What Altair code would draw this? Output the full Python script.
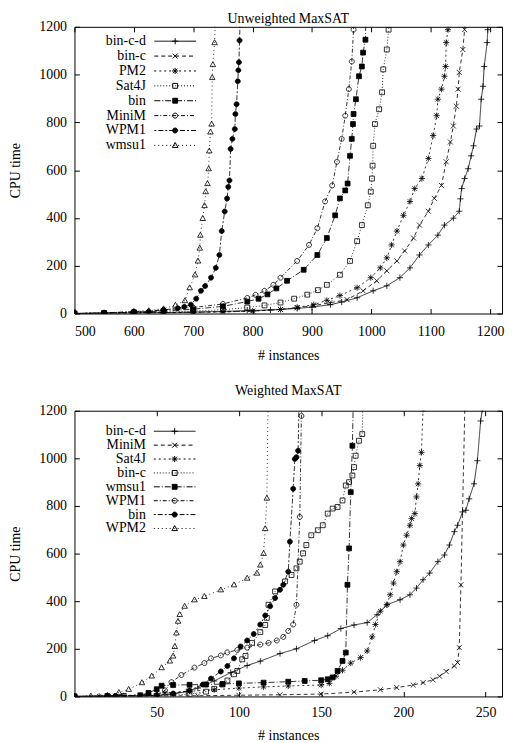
import math
import altair as alt
import pandas as pd

FONT = "Liberation Serif"

# ---------------- Unweighted MaxSAT ----------------
U_ORDER = ["bin-c-d", "bin-c", "PM2", "Sat4J", "bin", "MiniM", "WPM1", "wmsu1"]

U_BINCD_X = [500, 550, 600, 650, 700, 750, 791, 830, 875, 900, 931, 950, 976, 1003, 1026, 1048, 1065, 1081, 1096, 1112, 1123, 1138, 1148, 1150, 1152, 1157, 1163, 1168, 1172, 1177, 1182, 1185, 1188, 1190, 1195, 1196, 1199]
U_BINCD_Y = [0, 1, 2, 4, 6, 9, 12, 15, 21, 27, 37, 48, 66, 95, 116, 150, 191, 245, 287, 328, 370, 399, 428, 480, 523, 565, 606, 660, 702, 772, 785, 897, 951, 1034, 1134, 1188, 1400]

U_BINC_X = [500, 550, 600, 650, 700, 750, 800, 847, 875, 903, 930, 959, 986, 1009, 1026, 1043, 1056, 1071, 1081, 1096, 1106, 1118, 1126, 1133, 1138, 1143, 1146, 1148, 1154, 1157, 1160]
U_BINC_Y = [0, 1, 2, 3, 5, 7, 10, 17, 24, 33, 45, 58, 95, 137, 179, 220, 262, 316, 370, 428, 482, 536, 635, 718, 785, 868, 939, 1009, 1105, 1188, 1400]

U_PM2_X = [500, 550, 600, 650, 700, 750, 800, 847, 875, 903, 925, 947, 976, 999, 1015, 1026, 1034, 1043, 1054, 1065, 1073, 1085, 1096, 1104, 1110, 1112, 1118, 1123, 1125, 1126, 1129, 1132]
U_PM2_Y = [0, 1, 2, 3, 5, 7, 10, 17, 26, 37, 55, 75, 108, 150, 191, 233, 287, 345, 411, 469, 523, 565, 649, 745, 828, 897, 939, 993, 1034, 1134, 1188, 1400]

U_SAT4J_X = [500, 550, 600, 650, 700, 750, 791, 820, 847, 870, 892, 910, 925, 947, 964, 976, 984, 994, 999, 1001, 1002, 1003, 1006, 1013, 1018, 1020, 1026, 1029, 1031]
U_SAT4J_Y = [0, 1, 3, 6, 10, 16, 25, 34, 46, 62, 79, 98, 120, 162, 220, 303, 370, 453, 510, 565, 619, 702, 793, 855, 926, 1022, 1105, 1188, 1400]

U_BIN_X = [500, 550, 600, 650, 700, 750, 791, 810, 825, 840, 858, 886, 909, 925, 939, 947, 956, 960, 964, 967, 969, 970, 974, 979, 984, 986, 990, 992]
U_BIN_Y = [0, 2, 5, 10, 18, 30, 50, 62, 80, 105, 137, 183, 245, 316, 411, 482, 515, 544, 660, 731, 793, 835, 897, 993, 1034, 1092, 1146, 1400]

U_MINIM_X = [500, 550, 600, 650, 700, 750, 791, 805, 820, 835, 847, 875, 895, 909, 922, 934, 942, 950, 956, 962, 967, 970, 972]
U_MINIM_Y = [0, 3, 8, 15, 25, 40, 65, 78, 95, 120, 150, 220, 287, 357, 469, 536, 635, 731, 828, 939, 1055, 1188, 1400]

U_WPM1_X = [500, 550, 600, 625, 650, 674, 685, 696, 705, 713, 720, 730, 738, 744, 748, 753, 757, 759, 761, 763, 766, 770, 771, 773, 775, 776, 777, 778, 781]
U_WPM1_Y = [0, 2, 5, 8, 15, 22, 28, 37, 62, 95, 115, 150, 191, 245, 345, 427, 481, 530, 557, 689, 731, 772, 835, 876, 972, 1018, 1052, 1143, 1400]

U_WMSU1_X = [500, 550, 600, 625, 650, 670, 686, 694, 703, 708, 711, 712, 716, 719, 721, 724, 726, 727, 729, 731, 732, 733, 736, 739]
U_WMSU1_Y = [0, 3, 8, 12, 20, 35, 54, 108, 162, 220, 274, 328, 398, 452, 510, 544, 606, 681, 760, 793, 988, 1042, 1134, 1400]

# ---------------- Weighted MaxSAT ----------------
W_ORDER = ["bin-c-d", "MiniM", "Sat4J", "bin-c", "wmsu1", "WPM1", "bin", "WPM2"]

W_BINCD_X = [0, 20, 40, 50, 60, 68, 75, 80, 85, 95, 105, 113, 125, 135, 146, 154, 162, 170, 178, 184, 190, 198, 204, 208, 212, 216, 221, 225, 228, 231, 233, 236, 238, 240, 243, 245, 247, 248, 250]
W_BINCD_Y = [0, 1, 2, 5, 10, 20, 35, 50, 65, 100, 130, 148, 180, 200, 235, 255, 285, 300, 310, 343, 385, 406, 427, 455, 490, 518, 566, 594, 636, 692, 719, 775, 782, 830, 893, 990, 1157, 1206, 1400]

W_MINIM_X = [0, 25, 50, 75, 100, 125, 150, 170, 186, 196, 206, 212, 218, 222, 226, 231, 233, 234, 235, 238]
W_MINIM_Y = [0, 1, 2, 3, 5, 7, 10, 18, 28, 37, 48, 58, 70, 85, 105, 128, 142, 205, 469, 1400]

W_SAT4J_X = [0, 15, 30, 45, 55, 70, 85, 100, 115, 130, 150, 155, 159, 163, 168, 174, 178, 181, 183, 186, 190, 192, 194, 196, 198, 200, 202, 204, 205, 207, 208, 209, 210, 211, 212, 213]
W_SAT4J_Y = [0, 1, 3, 9, 15, 22, 28, 35, 40, 44, 48, 55, 85, 110, 140, 163, 191, 250, 302, 358, 385, 427, 476, 524, 566, 636, 677, 719, 747, 768, 838, 893, 970, 1025, 1206, 1400]

W_BINC_X = [0, 30, 60, 70, 80, 85, 90, 93, 97, 99, 102, 104, 108, 113, 116, 117, 118, 122, 128, 132, 135, 137, 139, 141, 144, 148, 151, 154, 157, 160, 163, 165, 167, 169, 170, 171, 173, 175, 176]
W_BINC_Y = [0, 2, 5, 10, 20, 32, 50, 67, 93, 107, 156, 170, 225, 270, 300, 330, 385, 441, 483, 510, 538, 566, 601, 636, 677, 698, 719, 768, 789, 796, 823, 886, 900, 928, 963, 1011, 1074, 1102, 1400]

W_WMSU1_X = [0, 20, 40, 45, 50, 53, 60, 70, 80, 90, 100, 115, 130, 140, 150, 154, 157, 160, 163, 165, 166, 167, 168, 169, 170]
W_WMSU1_Y = [0, 2, 5, 15, 30, 45, 48, 49, 50, 52, 55, 58, 62, 65, 68, 72, 80, 107, 149, 184, 469, 622, 858, 1053, 1400]

W_WPM1_X = [0, 25, 50, 55, 59, 65, 73, 79, 83, 89, 93, 99, 105, 113, 118, 123, 127, 130, 133, 135, 137, 138, 139]
W_WPM1_Y = [0, 2, 5, 25, 60, 90, 121, 140, 160, 172, 185, 195, 205, 218, 225, 235, 250, 275, 302, 385, 754, 1178, 1400]

W_BIN_X = [0, 25, 50, 60, 70, 78, 83, 89, 93, 97, 101, 105, 109, 113, 116, 119, 122, 125, 127, 130, 131, 133, 134, 135, 136, 137]
W_BIN_Y = [0, 1, 3, 12, 25, 50, 75, 105, 128, 160, 210, 235, 262, 302, 340, 379, 413, 448, 469, 524, 650, 872, 997, 1005, 1032, 1400]

W_WPM2_X = [0, 10, 20, 27, 33, 41, 47, 53, 58, 60, 61, 62, 63, 64, 67, 73, 79, 89, 97, 105, 111, 113, 115, 116, 117, 118]
W_WPM2_Y = [0, 2, 5, 17, 30, 58, 86, 121, 149, 170, 210, 267, 316, 344, 379, 406, 420, 448, 469, 497, 518, 552, 601, 705, 833, 1400]

U_TICKS_X = [500, 600, 700, 800, 900, 1000, 1100, 1200]
W_TICKS_X = [50, 100, 150, 200, 250]
TICKS_Y = [0, 200, 400, 600, 800, 1000, 1200]


def frame(series):
    rows = []
    for name, xs, ys in series:
        for xv, yv in zip(xs, ys):
            rows.append({"solver": name, "x": xv, "y": yv})
    return pd.DataFrame(rows)


df_u = frame([
    ("bin-c-d", U_BINCD_X, U_BINCD_Y), ("bin-c", U_BINC_X, U_BINC_Y),
    ("PM2", U_PM2_X, U_PM2_Y), ("Sat4J", U_SAT4J_X, U_SAT4J_Y),
    ("bin", U_BIN_X, U_BIN_Y), ("MiniM", U_MINIM_X, U_MINIM_Y),
    ("WPM1", U_WPM1_X, U_WPM1_Y), ("wmsu1", U_WMSU1_X, U_WMSU1_Y),
])
df_w = frame([
    ("bin-c-d", W_BINCD_X, W_BINCD_Y), ("MiniM", W_MINIM_X, W_MINIM_Y),
    ("Sat4J", W_SAT4J_X, W_SAT4J_Y), ("bin-c", W_BINC_X, W_BINC_Y),
    ("wmsu1", W_WMSU1_X, W_WMSU1_Y), ("WPM1", W_WPM1_X, W_WPM1_Y),
    ("bin", W_BIN_X, W_BIN_Y), ("WPM2", W_WPM2_X, W_WPM2_Y),
])

# gnuplot-like styles by position in the key
DASHES = [[1, 0], [4, 3], [2, 3], [1, 2], [6, 2, 1, 2], [4, 2, 1, 2], [2, 2, 5, 2], [1, 3]]
FILLS = ["transparent", "transparent", "transparent", "transparent", "black", "transparent", "black", "transparent"]


def symbol_paths(size):
    u = math.sqrt(size) / 2.0  # pixels per path unit

    def f(v):
        return f"{v / u:.3f}"
    p, c, d, s, r = 3.1, 2.5, 2.3, 2.45, 2.5
    plus = f"M{f(-p)},0H{f(p)}M0,{f(-p)}V{f(p)}"
    cross = f"M{f(-c)},{f(-c)}L{f(c)},{f(c)}M{f(-c)},{f(c)}L{f(c)},{f(-c)}"
    star = plus + f"M{f(-d)},{f(-d)}L{f(d)},{f(d)}M{f(-d)},{f(d)}L{f(d)},{f(-d)}"
    square = f"M{f(-s)},{f(-s)}H{f(s)}V{f(s)}H{f(-s)}Z"
    circle = f"M{f(r)},0A{f(r)},{f(r)} 0 1,1 {f(-r)},0A{f(r)},{f(r)} 0 1,1 {f(r)},0Z"
    tri = f"M0,{f(-2.9)}L{f(2.8)},{f(2.1)}L{f(-2.8)},{f(2.1)}Z"
    line = f"M{f(-21)},0H{f(21)}"
    return [plus, cross, star, square, square, circle, circle, tri], line


def panel(df, order, xdom, xticks, title, leg_y, size, lab_off, title_offset, height,
          lab_pad, tit_pad):
    shapes, line_sym = symbol_paths(size)
    xscale = alt.Scale(domain=xdom, nice=False, zero=False)
    yscale = alt.Scale(domain=[0, 1200], nice=False)
    ax = dict(domain=False, ticks=True, tickSize=5, offset=-5, tickColor="black",
              tickWidth=1, grid=False, format="d")
    leg_common = dict(orient="none", legendX=94, legendY=leg_y, title=None, padding=0,
                      symbolSize=size, symbolStrokeWidth=1, symbolStrokeColor="black",
                      symbolOffset=0, labelAlign="right",
                      labelOffset=alt.ExprRef(expr=str(lab_off)),
                      labelFont=FONT, labelFontSize=14, rowPadding=0, labelLimit=300)
    leg_a = alt.Legend(symbolType=line_sym, symbolFillColor="transparent",
                       labelColor="black", **leg_common)
    leg_b = alt.Legend(labelColor="transparent", **leg_common)

    lines = alt.Chart(df).mark_line(stroke="black", strokeWidth=0.8, clip=True).encode(
        x=alt.X("x:Q", scale=xscale,
                axis=alt.Axis(values=xticks, title="# instances", labelPadding=lab_pad,
                              titlePadding=tit_pad, **ax)),
        y=alt.Y("y:Q", scale=yscale,
                axis=alt.Axis(values=TICKS_Y, title="CPU time", labelPadding=8,
                              titlePadding=16, **ax)),
        strokeDash=alt.StrokeDash("solver:N", sort=order,
                                  scale=alt.Scale(range=DASHES), legend=leg_a),
        order="x:Q",
    )
    points = alt.Chart(df).transform_calculate(mk="datum.solver").mark_point(
        size=size, color="black", strokeWidth=0.8, opacity=1, clip=True
    ).encode(
        x=alt.X("x:Q", scale=xscale,
                axis=alt.Axis(orient="top", values=xticks, labels=False, title=None, **ax)),
        y=alt.Y("y:Q", scale=yscale,
                axis=alt.Axis(orient="right", values=TICKS_Y, labels=False, title=None, **ax)),
        shape=alt.Shape("mk:N", scale=alt.Scale(domain=order, range=shapes), legend=leg_b),
        fill=alt.Fill("mk:N", scale=alt.Scale(domain=order, range=FILLS), legend=leg_b),
        stroke=alt.Stroke("mk:N", scale=alt.Scale(domain=order, range=["black"] * 8),
                          legend=leg_b),
    )
    return alt.layer(lines, points).resolve_axis(x="independent", y="independent").properties(
        width=431, height=height,
        title=alt.TitleParams(title, font=FONT, fontSize=14, fontWeight="normal",
                              color="black", offset=alt.ExprRef(expr=str(title_offset)),
                              frame="group", anchor="middle"),
    )


top = panel(df_u, U_ORDER, [500, 1220], U_TICKS_X, "Unweighted MaxSAT", 7, 196, -37, -6, 289,
            11, 10)
bottom = panel(df_w, W_ORDER, [0, 260], W_TICKS_X, "Weighted MaxSAT", 13.7, 169, -36, 6, 288,
               9, 9)

chart = alt.vconcat(top, bottom, spacing=20).resolve_scale(
    x="independent", y="independent", strokeDash="independent",
    shape="independent", fill="independent", stroke="independent"
).resolve_legend(strokeDash="independent", shape="independent", fill="independent",
                 stroke="independent").properties(
    padding=0, background="white"
).configure_view(stroke="black", strokeWidth=1).configure_axis(
    labelFont=FONT, titleFont=FONT, labelFontSize=14, titleFontSize=14,
    titleFontWeight="normal", labelColor="black", titleColor="black"
)

chart.save("out.html", embed_options={"renderer": "svg", "actions": False})
